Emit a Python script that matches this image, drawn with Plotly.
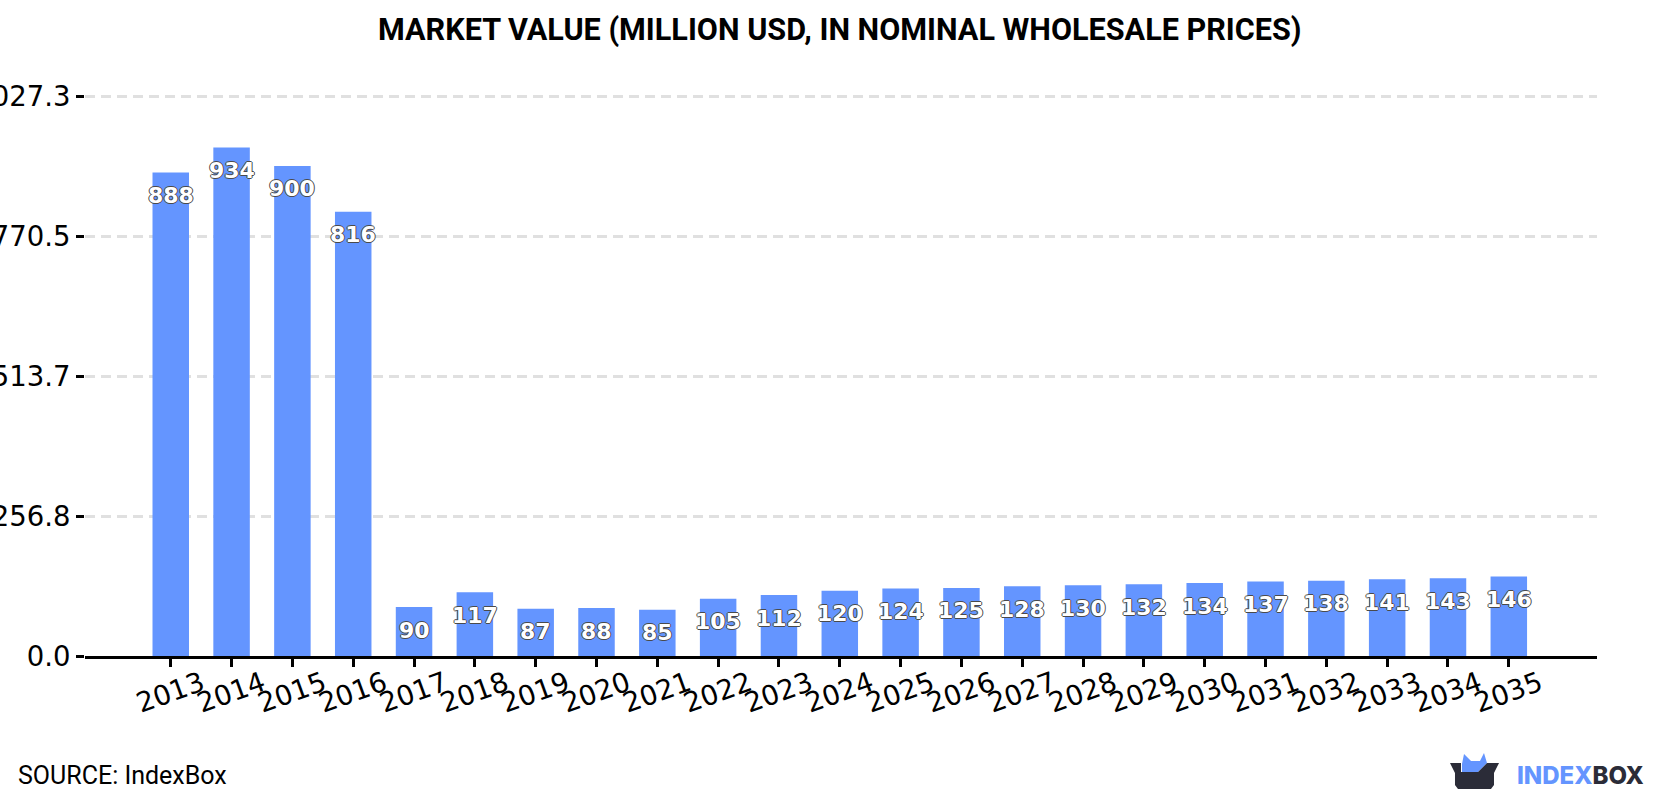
import plotly.graph_objects as go

years = [str(y) for y in range(2013, 2036)]
values = [888, 934, 900, 816, 90, 117, 87, 88, 85, 105, 112, 120, 124, 125,
          128, 130, 132, 134, 137, 138, 141, 143, 146]
y_ticks = [0.0, 256.8, 513.7, 770.5, 1027.3]
y_tick_labels = ["0.0", "256.8", "513.7", "770.5", "1027.3"]

W, H = 1680, 800
L, R, T, B = 85, 83, 87, 144
Y_TOP = 1045


def px(x):
    return (x - L) / (W - L - R)


def py(y):
    return 1 - (y - T) / (H - T - B)


def logo_path(points):
    return "M " + " L ".join(f"{px(x):.5f},{py(y):.5f}" for x, y in points) + " Z"


outline = ", ".join(
    f"{dx}px {dy}px 0 #4a4a4a"
    for dx, dy in [(1, 0), (-1, 0), (0, 1), (0, -1)]
)

fig = go.Figure(
    go.Bar(x=years, y=values, marker=dict(color="#6495ff", line_width=0), width=0.6, hoverinfo="x+y")
)

# Value labels sit just under the top of each bar
for idx, value in enumerate(values):
    fig.add_annotation(
        x=idx, y=value, xref="x", yref="y", text=str(value), showarrow=False,
        yshift=-23, yanchor="middle",
        font=dict(family="DejaVu Sans", size=22, color="white", weight="bold", shadow=outline),
    )

fig.add_annotation(
    x=px(840), y=py(30), xref="paper", yref="paper", xanchor="center", yanchor="middle", showarrow=False,
    text="<b>MARKET VALUE (MILLION USD, IN NOMINAL WHOLESALE PRICES)</b>",
    font=dict(family="Roboto", size=30.6, color="black"),
)
fig.add_annotation(
    x=px(16), y=py(775), xref="paper", yref="paper", xanchor="left", yanchor="middle", showarrow=False,
    text="SOURCE: IndexBox", font=dict(family="Roboto", size=25, color="black"),
)
fig.add_annotation(
    x=px(1515), y=py(775), xref="paper", yref="paper", xanchor="left", yanchor="middle", showarrow=False,
    text='<span style="color:#6495ff">INDEX</span><span style="color:#2b2c38">BOX</span>',
    font=dict(family="Inter", size=24, weight=800),
)

# Logo: a dark box with a blue crown poking out of it
logo_shapes = [
    dict(points=[(1462, 764), (1464, 754), (1471, 761), (1480, 761), (1484, 753), (1487, 763), (1478, 772), (1462, 772)],
         color="#6495ff"),
    dict(points=[(1450, 763), (1461, 763), (1461, 772), (1478, 772), (1487, 763), (1499, 763), (1494, 773),
                 (1494, 785), (1491, 789), (1458, 789), (1455, 785), (1455, 773)],
         color="#2b2c38"),
]
for shape in logo_shapes:
    fig.add_shape(type="path", xref="paper", yref="paper", path=logo_path(shape["points"]),
                  fillcolor=shape["color"], line_width=0, layer="above")

fig.update_layout(
    width=W, height=H,
    margin=dict(l=L, r=R, t=T, b=B, pad=0),
    paper_bgcolor="white", plot_bgcolor="white",
    showlegend=False, bargap=0.4,
    font=dict(family="DejaVu Sans", color="black"),
)
fig.update_xaxes(
    type="category", categoryorder="array", categoryarray=years,
    range=[-1.41, 23.45], tickangle=-20, ticks="outside", ticklen=8, tickwidth=3, tickcolor="black",
    ticklabelshift=31, ticklabelstandoff=-10,
    tickfont=dict(family="DejaVu Sans", size=27.5, color="black"),
    showgrid=False, showline=True, linecolor="black", linewidth=3, automargin=False, zeroline=False,
)
fig.update_yaxes(
    range=[0, Y_TOP], tickmode="array", tickvals=y_ticks, ticktext=y_tick_labels,
    ticks="outside", ticklen=8, tickwidth=3, tickcolor="black",
    tickfont=dict(family="DejaVu Sans", size=27.5, color="black"),
    showgrid=True, gridcolor="#e0e0e0", gridwidth=3, griddash="10px,6px",
    showline=False, zeroline=False, automargin=False,
)

fig.write_html("out.html", config=dict(displayModeBar=False))
